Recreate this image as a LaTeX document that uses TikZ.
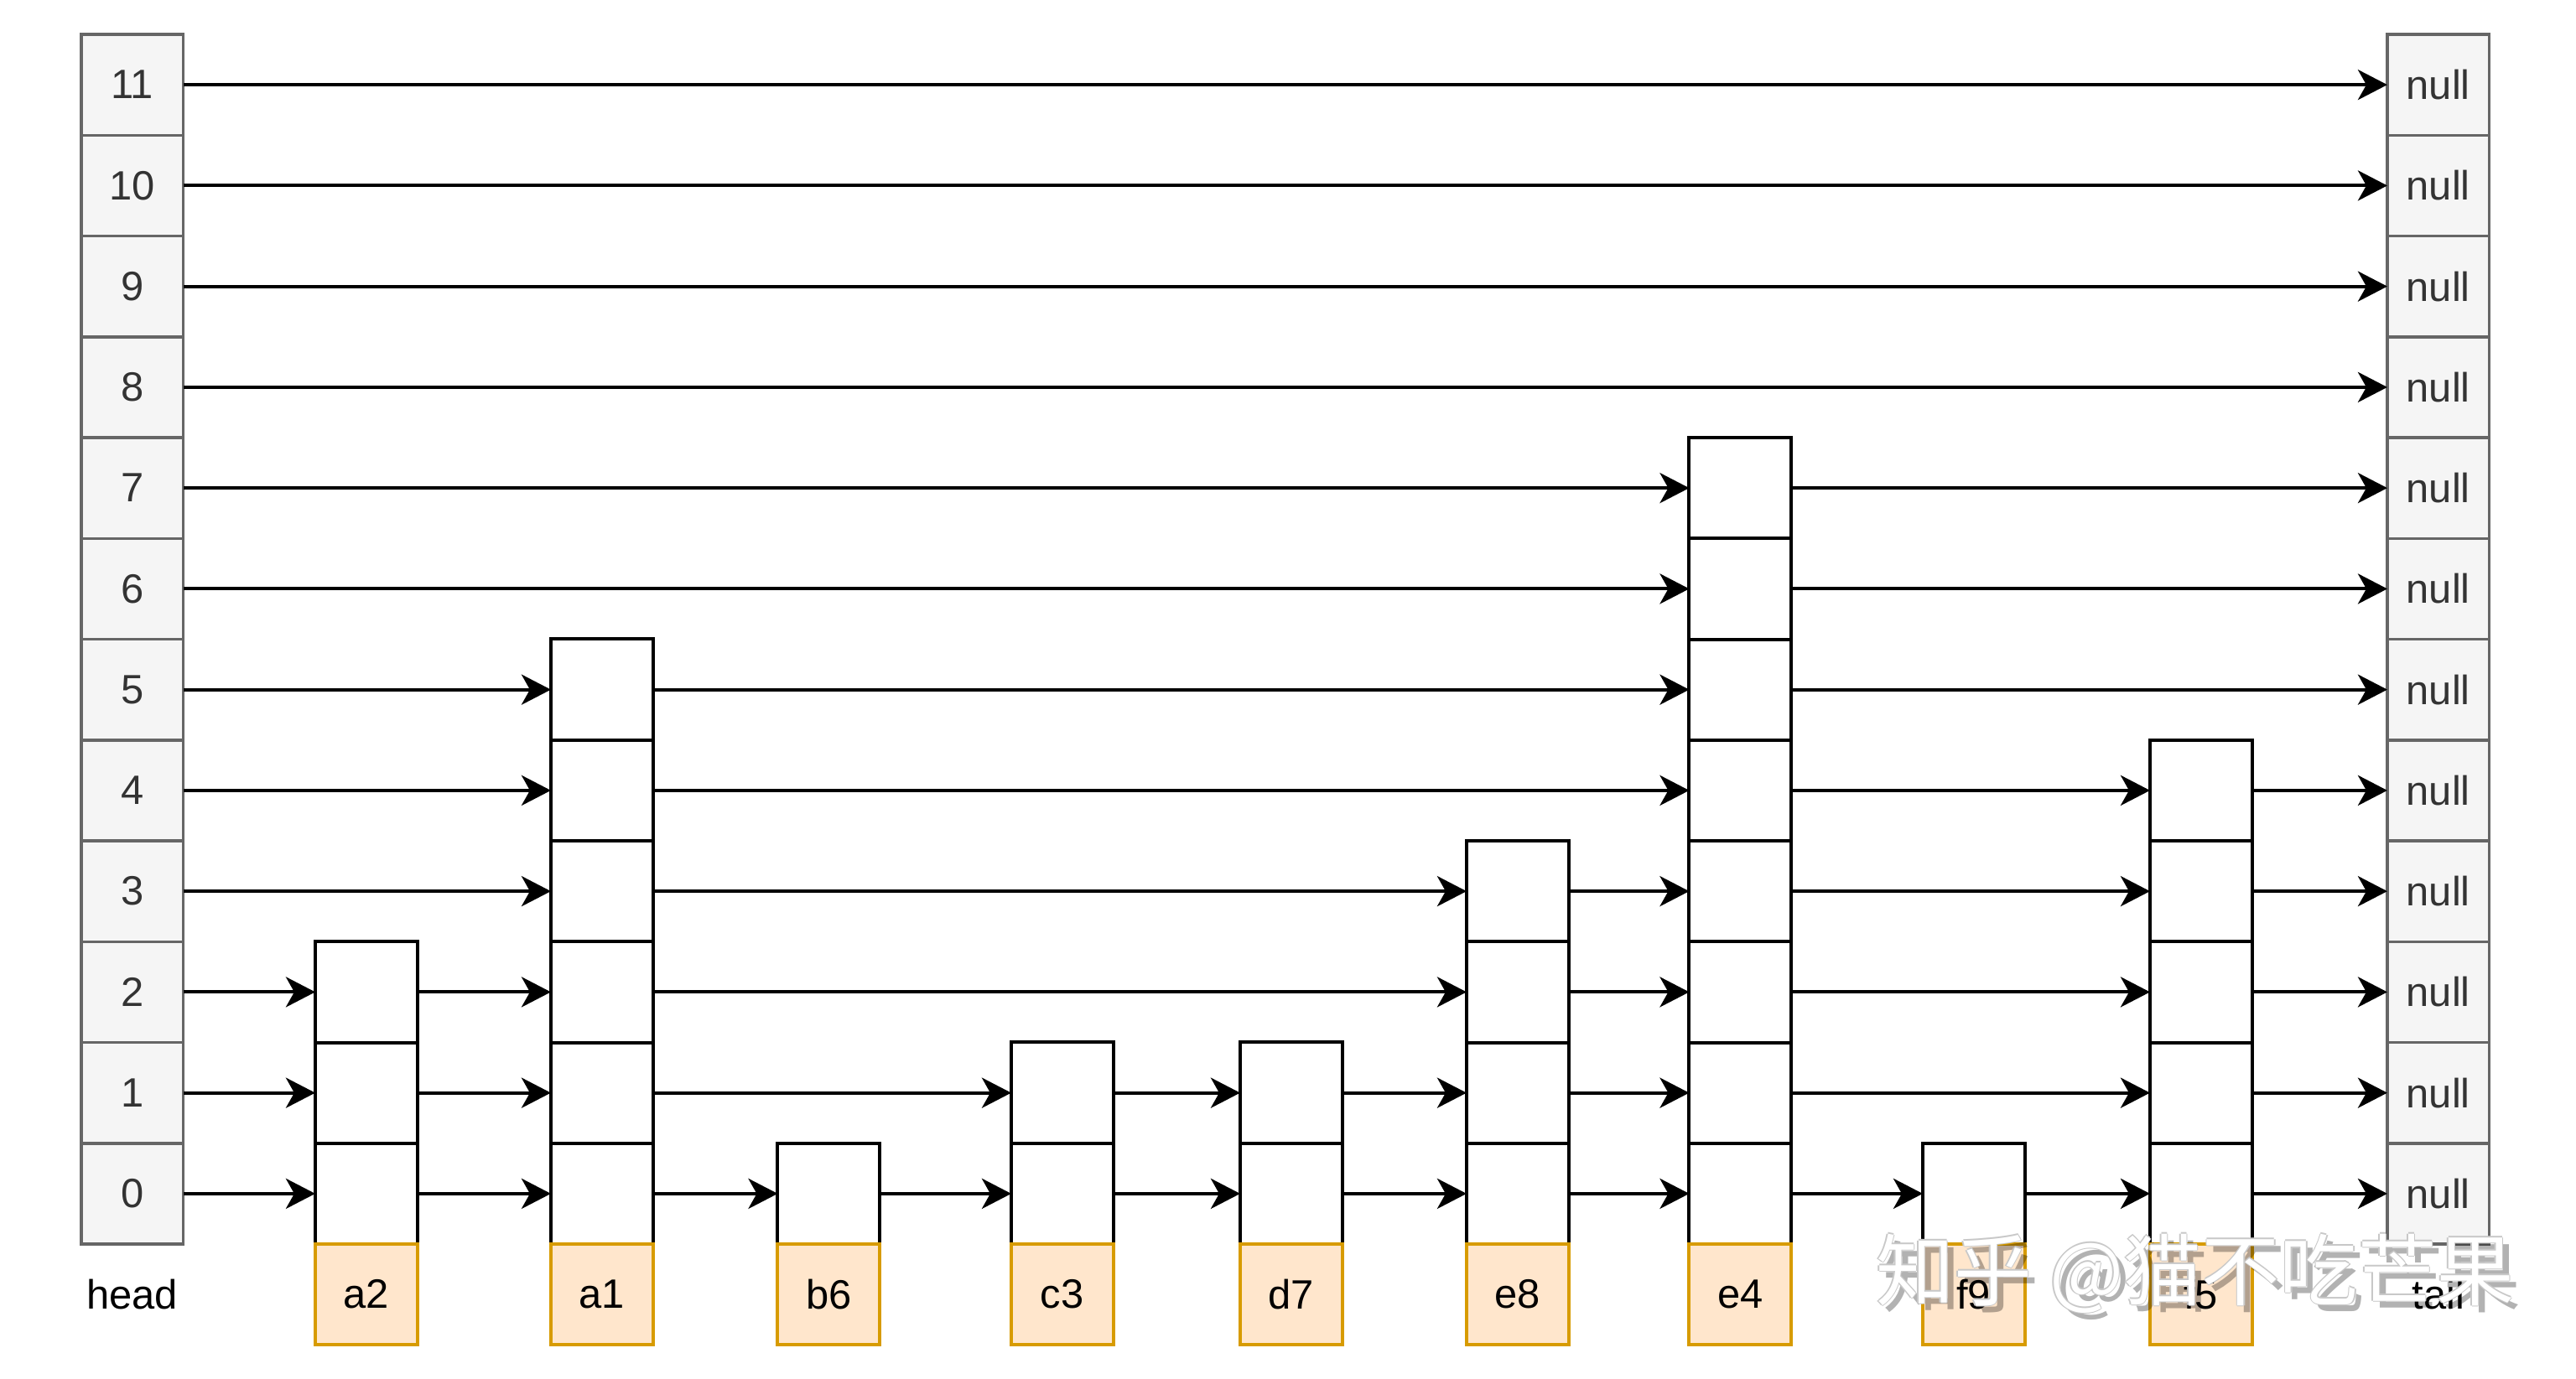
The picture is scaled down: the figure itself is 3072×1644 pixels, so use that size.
\documentclass[tikz,border=0pt]{standalone}
\usepackage{fontspec}
\setmainfont{Liberation Sans}
\newfontfamily\cjkfont{Noto Sans CJK SC}
\usetikzlibrary{arrows.meta}
\definecolor{hdfill}{HTML}{F5F5F5}
\definecolor{hddraw}{HTML}{666666}
\definecolor{hdtext}{HTML}{333333}
\definecolor{lbfill}{HTML}{FFE6CC}
\definecolor{lbdraw}{HTML}{D79B00}
\definecolor{wmline}{HTML}{C8C8C8}
\begin{document}
\begin{tikzpicture}[x=0.01cm,y=-0.01cm,
  every node/.style={font=\fontsize{13.9pt}{16pt}\selectfont, inner sep=0pt, outer sep=0pt},
  cell/.style={draw=black, fill=white, line width=0.04cm, minimum width=1.215cm, minimum height=1.2025cm},
  endcell/.style={draw=hddraw, fill=hdfill, text=hdtext, line width=0.035cm, minimum width=1.215cm, minimum height=1.2025cm},
  keybox/.style={draw=lbdraw, fill=lbfill, line width=0.04cm, minimum width=1.215cm, minimum height=1.2025cm},
  plainlabel/.style={minimum width=1.215cm, minimum height=1.2025cm},
  link/.style={line width=0.04cm, -{Stealth[length=0.35cm,width=0.36cm,inset=0.1cm]}},
  wmtext/.style={font=\cjkfont\fontsize{26.5pt}{30pt}\selectfont, anchor=west}
]
\path[use as bounding box] (0,0) rectangle (3072,1644);

% head and tail columns
\foreach \k in {0,...,11} {
  \node[endcell] (headL\k) at (157.75,{41+(11-\k)*120.25+60.125}) {\k};
  \node[endcell] (tailL\k) at (2907.75,{41+(11-\k)*120.25+60.125}) {null};
}
\node[plainlabel] (headlabel) at (157.75,1544.1) {head};
\node[plainlabel] (taillabel) at (2907.75,1544.1) {tail};

% towers
\foreach \nm/\xl/\hgt in {a2/376/2, a1/657/5, b6/927.5/0, c3/1206/1, d7/1479/1, e8/1749/3, e4/2014.5/7, f9/2293/0, f5/2564/4} {
  \foreach \k in {0,...,\hgt} {
    \node[cell] (\nm L\k) at ({\xl+60.75},{41+(11-\k)*120.25+60.125}) {};
  }
  \node[keybox] (\nm key) at ({\xl+60.75},1544.1) {\nm};
}

% links
\foreach \k/\a/\b in {11/head/tail, 10/head/tail, 9/head/tail, 8/head/tail,
  7/head/e4, 7/e4/tail, 6/head/e4, 6/e4/tail,
  5/head/a1, 5/a1/e4, 5/e4/tail,
  4/head/a1, 4/a1/e4, 4/e4/f5, 4/f5/tail,
  3/head/a1, 3/a1/e8, 3/e8/e4, 3/e4/f5, 3/f5/tail,
  2/head/a2, 2/a2/a1, 2/a1/e8, 2/e8/e4, 2/e4/f5, 2/f5/tail,
  1/head/a2, 1/a2/a1, 1/a1/c3, 1/c3/d7, 1/d7/e8, 1/e8/e4, 1/e4/f5, 1/f5/tail,
  0/head/a2, 0/a2/a1, 0/a1/b6, 0/b6/c3, 0/c3/d7, 0/d7/e8, 0/e8/e4, 0/e4/f9, 0/f9/f5, 0/f5/tail} {
  \draw[link] (\a L\k.east) -- (\b L\k.west);
}

% watermark
\node[wmtext, text=black, opacity=0.3] (wmshadow) at (2245,1527) {知乎 @猫不吃芒果};
\foreach \dx/\dy in {-1.5/0, 1.5/0, 0/-1.5, 0/1.5} {
  \node[wmtext, text=wmline] at ({2237+\dx},{1519+\dy}) {知乎 @猫不吃芒果};
}
\node[wmtext, text=white] (wm) at (2237,1519) {知乎 @猫不吃芒果};
\end{tikzpicture}
\end{document}
